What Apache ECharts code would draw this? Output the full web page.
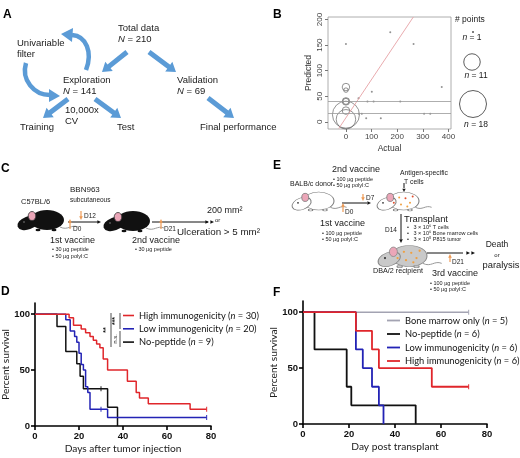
<!DOCTYPE html>
<html><head><meta charset="utf-8">
<script src="https://cdn.jsdelivr.net/npm/echarts@6/dist/echarts.min.js"></script>
<style>html,body{margin:0;padding:0;background:#fff}#c{width:520px;height:458px}</style>
</head><body><div id="c"></div>
<script>
// ---------- Panel B data (Actual vs Predicted, bubble = # points) ----------
const bActual    = [0,173,264,374,101,49,84,108,212,50,62,79,136,305,329, 0,0,0,0,0,0,0];
const bPredicted = [152,175,152,68,59,46,40,40,40,16,16,7,7,16,16, 68,62,40,40,22,14,5];
const bCount     = [1,1,1,1,1,1,1,1,1,1,1,1,1,1,1, 5,3,5,4,5,18,13];
const bRefLines  = [40, 16];
const bFitActual = [-28, 263];
const bFitPredicted = [-13, 205];
const bTicksX = [0,100,200,300,400];
const bTicksY = [0,50,100,150,200];
const bLegendCounts = [1, 11, 18];

// ---------- Panel D data (survival after tumor injection) ----------
const dHighDays = [0,15.5,17.5,21,23,25,26.5,28,29.5,31,33,42,46,47.5,51.5,70.5,78];
const dHighSurv = [100,96.7,90,86.7,83.3,80,76.7,73.3,70,60,50,40,30,25,20,15,15];
const dLowDays  = [0,14,16,18,19,20,21,22,23,24,25,33,78];
const dLowSurv  = [100,95,85,80,75,65,55,50,35,30,15,7.5,7.5];
const dNoDays   = [0,10,14,19,20.5,22,33,37.5];
const dNoSurv   = [100,88.9,66.7,55.6,44.4,33.3,16.7,0];
const dYTicks = [0,50,100];

// ---------- Panel F data (survival post transplant) ----------
const fBoneDays = [0,72];
const fBoneSurv = [100,100];
const fNoDays   = [0,5,19,21,49];
const fNoSurv   = [100,66.7,33.3,16.7,0];
const fLowDays  = [0,23,26,30,33,35];
const fLowSurv  = [100,66.7,50,33.3,16.7,0];
const fHighDays = [0,23,30,33,56,72];
const fHighSurv = [100,83.3,66.7,50,33.3,33.3];
const fYTicks = [0,50,100];

const RED='#e0262b', BLUE='#2323b5', BLACK='#111', GRAY='#a3a3b2';
const ARIAL='Liberation Sans, Arial, sans-serif';
const CAL='Lato, "Open Sans", sans-serif';
const ORANGE='#ee9a55', FLOW='#5b9bd6';

const pairs=(a,b)=>a.map((v,i)=>[v,b[i]]);
const bubbleSize = n => n===1 ? 2 : 1.5*n;

// ---------- graphic helpers (illustration panels) ----------
function txt(x,y,t,size,o,rot){return {type:'text',x:x,y:y,rotation:rot||0,z:20,silent:true,style:Object.assign({text:t,fill:'#1a1a1a',fontSize:size,fontFamily:ARIAL,align:'left',verticalAlign:'middle'},o||{})};}
function arrow(x1,y1,x2,y2,w,hl,hw,color){
  const dx=x2-x1,dy=y2-y1,L=Math.hypot(dx,dy),ux=dx/L,uy=dy/L,px=-uy,py=ux;
  const bx=x2-ux*hl,by=y2-uy*hl;
  return {type:'polygon',z:15,silent:true,shape:{points:[[x1+px*w/2,y1+py*w/2],[bx+px*w/2,by+py*w/2],[bx+px*hw/2,by+py*hw/2],[x2,y2],[bx-px*hw/2,by-py*hw/2],[bx-px*w/2,by-py*w/2],[x1-px*w/2,y1-py*w/2]]},style:{fill:color}};
}
function tri(x,y,dir,size,color){
  const s=size; let pts;
  if(dir==='r') pts=[[x,y],[x-s*1.4,y-s*0.7],[x-s*1.4,y+s*0.7]];
  else if(dir==='d') pts=[[x,y],[x-s*0.7,y-s*1.4],[x+s*0.7,y-s*1.4]];
  else pts=[[x,y],[x-s*0.7,y+s*1.4],[x+s*0.7,y+s*1.4]];
  return {type:'polygon',z:15,silent:true,shape:{points:pts},style:{fill:color}};
}
function seg(x1,y1,x2,y2,color,w){return {type:'line',z:15,silent:true,shape:{x1:x1,y1:y1,x2:x2,y2:y2},style:{stroke:color,lineWidth:w||1}};}
function ell(cx,cy,rx,ry,fill,stroke,rot){return {type:'circle',z:12,silent:true,x:cx,y:cy,scaleX:rx,scaleY:ry,rotation:rot||0,shape:{cx:0,cy:0,r:1},style:{fill:fill,stroke:stroke||null,lineWidth:stroke?0.8:0,strokeNoScale:true}};}
function upArrow(x,tipY,len){return [seg(x,tipY+3,x,tipY+len,ORANGE,1.2),tri(x,tipY,'u',2.6,ORANGE)];}
function downArrow(x,tipY,len){return [seg(x,tipY-len,x,tipY-3,ORANGE,1.2),tri(x,tipY,'d',2.6,ORANGE)];}
function mouse(cx,cy,s,body,stroke,tail,dots){
  const e=[];
  e.push({type:'bezierCurve',z:11,silent:true,shape:{x1:cx+16*s,y1:cy+7*s,cpx1:cx+24*s,cpy1:cy+11*s,cpx2:cx+27*s,cpy2:cy+4*s,x2:cx+34*s,y2:cy+7*s},style:{stroke:tail,lineWidth:1,fill:null}});
  e.push(ell(cx+3*s,cy,17*s,10*s,body,stroke));
  e.push(ell(cx-16*s,cy+3*s,11*s,6.5*s,body,stroke,0.35));
  e.push(ell(cx-12*s,cy-4*s,3.8*s,4.5*s,'#eba6b8',stroke||'#333'));
  e.push(ell(cx-20*s,cy+2*s,1*s,1*s,body==='#111'?'#555':'#333',null));
  e.push(ell(cx-6*s,cy+10*s,2.5*s,1.2*s,body,stroke));
  e.push(ell(cx+10*s,cy+10*s,2.5*s,1.2*s,body,stroke));
  (dots||[]).forEach(d=>e.push(ell(cx+d[0]*s,cy+d[1]*s,1.1*s,1.1*s,d[2],null)));
  return e;
}

const G=[];
[['A',3,15],['B',273,15],['C',1,169],['E',273,166],['D',1,292],['F',273,293]].forEach(l=>G.push(txt(l[1],l[2],l[0],12,{fontWeight:'bold',fill:'#000'})));

// ---- Panel A: workflow ----
const ri={i:{fontStyle:'italic',fontSize:9.5,fontFamily:ARIAL,fill:'#1a1a1a'}};
G.push(txt(118,28,'Total data',9.5));
G.push(txt(118,39,'{i|N} = 210',9.5,{rich:ri}));
G.push(txt(17,43,'Univariable',9.5));
G.push(txt(17,54,'filter',9.5));
G.push(txt(63,80,'Exploration',9.5));
G.push(txt(63,91,'{i|N} = 141',9.5,{rich:ri}));
G.push(txt(177,80,'Validation',9.5));
G.push(txt(177,91,'{i|N} = 69',9.5,{rich:ri}));
G.push(txt(65,110,'10,000x',9.5));
G.push(txt(65,121,'CV',9.5));
G.push(txt(20,127,'Training',9.5));
G.push(txt(117,127,'Test',9.5));
G.push(txt(200,127,'Final performance',9.5));
G.push(arrow(127,52,102,72,5,9,12,FLOW));
G.push(arrow(149,52,176,72,5,9,12,FLOW));
G.push(arrow(68,99,43,118,5,9,12,FLOW));
G.push(arrow(95,99,121,118,5,9,12,FLOW));
G.push(arrow(208,98,234,118,5,9,12,FLOW));
G.push({type:'bezierCurve',z:14,silent:true,shape:{x1:86,y1:70,cpx1:93,cpy1:52,cpx2:86,cpy2:36,x2:72,y2:35},style:{stroke:FLOW,lineWidth:4.5,fill:null}});
G.push({type:'polygon',z:15,silent:true,shape:{points:[[61,34],[73,28],[72,42]]},style:{fill:FLOW}});
G.push({type:'bezierCurve',z:14,silent:true,shape:{x1:26,y1:63,cpx1:21,cpy1:80,cpx2:34,cpy2:95,x2:50,y2:95},style:{stroke:FLOW,lineWidth:4.5,fill:null}});
G.push({type:'polygon',z:15,silent:true,shape:{points:[[60,96],[49,89],[49,102]]},style:{fill:FLOW}});

// ---- Panel B legend ----
G.push(txt(455,20,'# points',8.5));
const ri8={i:{fontStyle:'italic',fontSize:8.5,fontFamily:ARIAL,fill:'#1a1a1a'}};
G.push(ell(473,32,bubbleSize(bLegendCounts[0])/2,bubbleSize(bLegendCounts[0])/2,'#555',null));
G.push(txt(472,38,'{i|n} = '+bLegendCounts[0],8.5,{rich:ri8,align:'center'}));
G.push(ell(472,62,bubbleSize(bLegendCounts[1])/2,bubbleSize(bLegendCounts[1])/2,'rgba(0,0,0,0)','#333'));
G.push(txt(476,76,'{i|n} = '+bLegendCounts[1],8.5,{rich:ri8,align:'center'}));
G.push(ell(473,104,bubbleSize(bLegendCounts[2])/2,bubbleSize(bLegendCounts[2])/2,'rgba(0,0,0,0)','#333'));
G.push(txt(476,125,'{i|n} = '+bLegendCounts[2],8.5,{rich:ri8,align:'center'}));

// ---- Panel C: tumor model timeline ----
G.push(txt(21,202,'C57BL/6',7.5));
G.push(...mouse(44,220,1,'#111',null,'#999'));
G.push(seg(68,222,98,222,'#111',1)); G.push(tri(101,222,'r',2.6,'#111'));
G.push(...upArrow(70,219,10)); G.push(txt(73,229,'D0',6.5));
G.push(...downArrow(81,220,9)); G.push(txt(84,216,'D12',6.5));
G.push(txt(70,190,'BBN963',8));
G.push(txt(70,200,'subcutaneous',6.5));
G.push(...mouse(130,221,1,'#111',null,'#999'));
G.push(seg(152,222,208,222,'#111',1)); G.push(tri(209,222,'r',2.6,'#111')); G.push(tri(214,222,'r',2.6,'#111'));
G.push(...upArrow(161,219,10)); G.push(txt(164,229,'D21',6.5));
G.push(txt(207,211,'200 mm²',9));
G.push(txt(215,220,'or',6));
G.push(txt(177,232,'Ulceration > 5 mm²',9.8));
G.push(txt(50,241,'1st vaccine',9));
G.push(txt(52,249,'• 30 µg peptide',5.5));
G.push(txt(52,256,'• 50 µg polyI:C',5.5));
G.push(txt(132,241,'2nd vaccine',9));
G.push(txt(135,249,'• 30 µg peptide',5.5));

// ---- Panel E: adoptive transfer model ----
G.push(txt(332,170,'2nd vaccine',9));
G.push(txt(333,179,'• 100 µg peptide',5.5));
G.push(txt(333,185,'• 50 µg polyI:C',5.5));
G.push(txt(290,184,'BALB/c donor',7));
G.push(txt(400,173,'Antigen-specific',6.8));
G.push(txt(404,182,'T cells',6.8));
G.push(...mouse(316,201,0.9,'#fff','#777','#999'));
G.push(seg(342,203,367,203,'#111',1)); G.push(tri(371,203,'r',2.6,'#111'));
G.push(...upArrow(343,203,9)); G.push(txt(345,212,'D0',6.5));
G.push(...downArrow(363,201,7)); G.push(txt(366,198,'D7',6.5));
G.push(...mouse(401,201,0.9,'#fff','#777','#999',[[-2,-4,'#f0a040'],[5,-3,'#e05030'],[10,2,'#f0a040'],[0,4,'#f0a040'],[13,-5,'#e05030'],[-8,2,'#e05030'],[7,6,'#f0a040']]));
G.push(seg(404,183,404,188,'#111',1)); G.push(tri(404,192,'d',2.4,'#111'));
G.push(txt(320,224,'1st vaccine',9));
G.push(txt(322,233,'• 100 µg peptide',5.5));
G.push(txt(322,239,'• 50 µg polyI:C',5.5));
G.push(txt(404,219,'Transplant',9.4));
G.push(seg(401,214,401,239,'#111',1)); G.push(tri(401,243,'d',2.6,'#111'));
G.push(txt(385,230,'D14',6.5));
G.push(txt(407,227,'•   3 × 10⁶ T cells',5.5));
G.push(txt(407,233,'•   3 × 10⁶ Bone marrow cells',5.5));
G.push(txt(407,239,'•   3 × 10⁵ P815 tumor',5.5));
G.push(...mouse(406,256,1.05,'#c9c9c9','#888','#999',[[-2,-4,'#f0a040'],[5,-3,'#f0a040'],[10,2,'#f0a040'],[0,4,'#f0a040'],[13,-5,'#f0a040'],[-8,2,'#f0a040'],[7,6,'#f0a040']]));
G.push(txt(373,271,'DBA/2 recipient',7.2));
G.push(seg(427,253,463,253,'#111',1)); G.push(tri(470,253,'r',2.6,'#111')); G.push(tri(475,253,'r',2.6,'#111'));
G.push(...upArrow(450,254,8)); G.push(txt(452,262,'D21',6.5));
G.push(txt(497,245,'Death',8.5,{align:'center'}));
G.push(txt(497,255,'or',6,{align:'center'}));
G.push(txt(501,265,'paralysis',9.4,{align:'center'}));
G.push(txt(432,274,'3rd vaccine',9));
G.push(txt(430,283,'• 100 µg peptide',5.5));
G.push(txt(430,289,'• 50 µg polyI:C',5.5));

// ---- Panel D significance brackets ----
G.push(seg(111,313,111,347,'#222',0.8));
G.push(seg(120,313,120,329,'#222',0.8));
G.push(seg(120,331,120,347,'#222',0.8));
G.push(txt(106,330,'**',7,{align:'center',fontWeight:'bold'},Math.PI/2));
G.push(txt(115.5,321,'***',7,{align:'center',fontWeight:'bold'},Math.PI/2));
G.push(txt(115.5,339,'n.s.',6,{align:'center'},Math.PI/2));

const survAxisX=(grid,name,gap)=>({type:'value',gridIndex:grid,min:0,max:80,interval:20,
  axisLine:{show:true,onZero:false,lineStyle:{color:'#000',width:1.6}},axisTick:{show:true,length:4,lineStyle:{color:'#000',width:1.6}},
  axisLabel:{fontSize:9.5,fontWeight:'bold',color:'#111',margin:5,fontFamily:ARIAL},splitLine:{show:false},
  name:name,nameLocation:'middle',nameGap:gap,nameTextStyle:{fontSize:10.2,color:'#222',fontFamily:CAL}});
const survAxisY=(grid,ticks,gap)=>({type:'value',gridIndex:grid,min:0,max:110,
  axisLine:{show:true,onZero:false,lineStyle:{color:'#000',width:1.6}},axisTick:{show:true,length:4,customValues:ticks,lineStyle:{color:'#000',width:1.6}},
  axisLabel:{fontSize:9.5,fontWeight:'bold',color:'#111',margin:5,customValues:ticks,fontFamily:ARIAL},splitLine:{show:false},
  name:'Percent survival',nameLocation:'middle',nameGap:gap,nameTextStyle:{fontSize:10.2,color:'#222',fontFamily:CAL}});
const stepLine=(name,days,surv,color,xi,w)=>({type:'line',name:name,xAxisIndex:xi,yAxisIndex:xi,step:'end',symbol:'none',data:pairs(days,surv),lineStyle:{color:color,width:w},itemStyle:{color:color},silent:true});
const censor=(name,pts,color,xi)=>({type:'scatter',name:name,xAxisIndex:xi,yAxisIndex:xi,symbol:'rect',symbolSize:[1.2,5],data:pts,itemStyle:{color:color},silent:true});
const legRich={i:{fontStyle:'italic',fontSize:9.3,fontFamily:CAL,color:'#111'}};
const legFmt=n=>n.replace('(n','({i|n}');
const legItems=names=>names.map(n=>({name:n,icon:'rect'}));

const option={
  animation:false,
  backgroundColor:'#fff',
  grid:[
    {left:328,top:17,width:123,height:112,show:true,borderColor:'#9a9a9a',borderWidth:0.8,containLabel:false,outerBoundsMode:'none'},
    {left:35,top:303,width:176,height:123,containLabel:false,outerBoundsMode:'none'},
    {left:303,top:301,width:184,height:123,containLabel:false,outerBoundsMode:'none'}
  ],
  xAxis:[
    {type:'value',gridIndex:0,min:-70,max:410,axisLine:{show:false,onZero:false},axisTick:{show:true,length:3,customValues:bTicksX,lineStyle:{color:'#777'}},
     axisLabel:{customValues:bTicksX,fontSize:8,color:'#444',margin:4,fontFamily:ARIAL},splitLine:{show:false},
     name:'Actual',nameLocation:'middle',nameGap:15,nameTextStyle:{fontSize:8.5,color:'#333',fontFamily:ARIAL}},
    survAxisX(1,'Days after tumor injection',18),
    survAxisX(2,'Day post transplant',18)
  ],
  yAxis:[
    {type:'value',gridIndex:0,min:-14,max:205,axisLine:{show:false,onZero:false},axisTick:{show:true,length:3,customValues:bTicksY,lineStyle:{color:'#777'}},
     axisLabel:{customValues:bTicksY,rotate:90,fontSize:8,color:'#444',margin:4,fontFamily:ARIAL},splitLine:{show:false},
     name:'Predicted',nameLocation:'middle',nameGap:15,nameTextStyle:{fontSize:8.5,color:'#333',fontFamily:ARIAL}},
    survAxisY(1,dYTicks,17),
    survAxisY(2,fYTicks,19)
  ],
  legend:[
    {left:123,top:311,orient:'vertical',itemGap:4.3,itemWidth:11,itemHeight:1.6,padding:0,
     data:legItems(['High immunogenicity (n = 30)','Low immunogenicity (n = 20)','No-peptide (n = 9)']),
     formatter:legFmt,textStyle:{fontSize:9.3,fontFamily:CAL,color:'#111',rich:legRich},selectedMode:false},
    {left:387,top:316,orient:'vertical',itemGap:4.5,itemWidth:13,itemHeight:1.8,padding:0,
     data:legItems(['Bone marrow only (n = 5)','No-peptide (n = 6)','Low immunogenicity (n = 6)','High immunogenicity (n = 6)']),
     formatter:legFmt,textStyle:{fontSize:9.3,fontFamily:CAL,color:'#111',rich:legRich},selectedMode:false}
  ],
  series:[
    {type:'scatter',name:'bGroups',xAxisIndex:0,yAxisIndex:0,silent:true,
     data:bActual.map((a,i)=>[a,bPredicted[i],bCount[i]]).filter(p=>p[2]>1),
     symbolSize:v=>bubbleSize(v[2]),itemStyle:{color:'rgba(0,0,0,0)',borderColor:'#555',borderWidth:0.8}},
    {type:'scatter',name:'bSingles',xAxisIndex:0,yAxisIndex:0,silent:true,
     data:bActual.map((a,i)=>[a,bPredicted[i],bCount[i]]).filter(p=>p[2]===1),
     symbolSize:v=>bubbleSize(v[2]),itemStyle:{color:'#777'},
     markLine:{silent:true,symbol:'none',label:{show:false},lineStyle:{color:'#999',type:'solid',width:0.8},data:bRefLines.map(y=>({yAxis:y}))}},
    {type:'line',name:'bFit',xAxisIndex:0,yAxisIndex:0,silent:true,symbol:'none',data:pairs(bFitActual,bFitPredicted),lineStyle:{color:'#e6a1a5',width:0.9}},

    stepLine('No-peptide (n = 9)',dNoDays,dNoSurv,BLACK,1,1.5),
    stepLine('Low immunogenicity (n = 20)',dLowDays,dLowSurv,BLUE,1,1.5),
    stepLine('High immunogenicity (n = 30)',dHighDays,dHighSurv,RED,1,1.5),
    censor('dNoC',[[30,33.3]],BLACK,1),
    censor('dLowC',[[30,15],[78,7.5]],BLUE,1),
    censor('dHighC',[[78,15]],RED,1),

    stepLine('Bone marrow only (n = 5)',fBoneDays,fBoneSurv,GRAY,2,1.5),
    stepLine('No-peptide (n = 6)',fNoDays,fNoSurv,BLACK,2,1.8),
    stepLine('Low immunogenicity (n = 6)',fLowDays,fLowSurv,BLUE,2,1.8),
    stepLine('High immunogenicity (n = 6)',fHighDays,fHighSurv,RED,2,1.8),
    censor('fBoneC',[[72,100]],GRAY,2),
    censor('fHighC',[[72,33.3]],RED,2)
  ],
  graphic:{elements:G}
};
const chart=echarts.init(document.getElementById('c'),null,{width:520,height:458});
chart.setOption(option);
</script></body></html>
